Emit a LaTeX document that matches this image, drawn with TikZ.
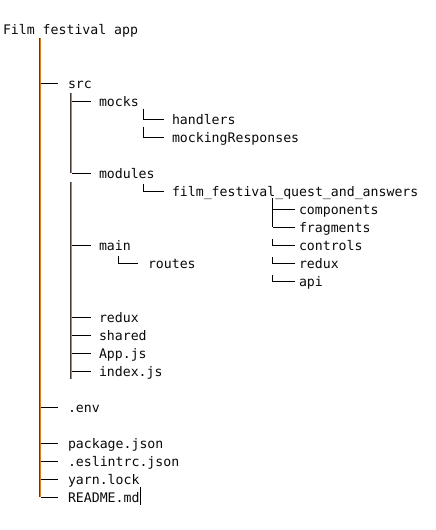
\documentclass[tikz,border=0pt]{standalone}
\usepackage{fontspec}
\setmonofont{DejaVu Sans Mono}
\definecolor{txt}{RGB}{10,10,10}
\definecolor{dk}{RGB}{75,60,55}
\definecolor{orng}{RGB}{215,125,35}
\tikzset{
  f/.style={anchor=base west, inner sep=0pt, outer sep=0pt, font=\ttfamily\fontsize{13.2}{15}\selectfont, text=txt},
  tick/.style={draw=black, line width=1pt},
  vdark/.style={draw=dk, line width=1pt},
  vorng/.style={draw=orng, line width=1pt}
}
% branch tick: node, dx back from text, length
\newcommand{\brtick}[3]{\draw[tick] ([shift={(-#2,-4.7)}]#1.base west) -- ++(#3,0);}
% corner: node, dx, height, length
\newcommand{\brcorner}[4]{\draw[tick] ([shift={(-#2,-4.7-#3)}]#1.base west) -- ++(0,#3) -- ++(#4,0);}
\begin{document}
\begin{tikzpicture}[x=1pt,y=-1pt]
\fill[white] (0,0) rectangle (436,530);
\useasboundingbox (0,0) rectangle (436,530);

\node[f] (root) at (3,34) {Film festival app};
\node[f] (src) at (68,88) {src};
\node[f] (mocks) at (99,106) {mocks};
\node[f] (handlers) at (172,124) {handlers};
\node[f] (mockresp) at (172,142) {mockingResponses};
\node[f] (modules) at (99,178) {modules};
\node[f] (ffqa) at (172,196) {film\_festival\_quest\_and\_answers};
\node[f] (components) at (299,214) {components};
\node[f] (fragments) at (299,232) {fragments};
\node[f] (main) at (99,250) {main};
\node[f] (controls) at (299,250) {controls};
\node[f] (routes) at (148,268) {routes};
\node[f] (reduxb) at (299,268) {redux};
\node[f] (api) at (299,286) {api};
\node[f] (redux) at (99,322) {redux};
\node[f] (shared) at (99,340) {shared};
\node[f] (appjs) at (99,358) {App.js};
\node[f] (indexjs) at (99,376) {index.js};
\node[f] (env) at (68,412) {.env};
\node[f] (pkg) at (68,448) {package.json};
\node[f] (eslint) at (68,466) {.eslintrc.json};
\node[f] (yarn) at (68,484) {yarn.lock};
\node[f] (readme) at (68,502) {README.md};

% main vertical line
\coordinate (m1) at (39.5,38);
\coordinate (m2) at (39.5,497.3);
\draw[vdark] (m1) -- (m2);
\draw[vorng] ([xshift=1]m1) -- ([xshift=1]m2);
% level-2 vertical lines
\coordinate (s1) at (70.5,93);
\coordinate (s2) at (70.5,173.3);
\coordinate (s3) at (70.5,182);
\coordinate (s4) at (70.5,379);
\draw[vdark] (s1) -- (s2);
\draw[vorng] ([xshift=1]s1) -- ([xshift=1]s2);
\draw[vdark] (s3) -- (s4);
\draw[vorng] ([xshift=1]s3) -- ([xshift=1]s4);

% level-1 ticks
\foreach \n in {src,env,pkg,eslint,yarn,readme} {\brtick{\n}{27}{17}}
% level-2 ticks
\foreach \n in {mocks,modules,main,redux,shared,appjs,indexjs} {\brtick{\n}{27}{19}}
% level-3 corners
\brcorner{handlers}{28.5}{10.7}{20}
\brcorner{mockresp}{28.5}{10.7}{20}
\brcorner{ffqa}{28.5}{7.7}{20}
\brcorner{routes}{29.5}{7}{19.5}
% level-4
\draw[tick] ([shift={(-26.5,-16.3)}]components.base west) -- ([shift={(-26.5,-4.7)}]fragments.base west);
\brtick{components}{26.5}{22.5}
\brtick{fragments}{26.5}{22.5}
\brcorner{controls}{26.5}{6.5}{22.5}
\brcorner{reduxb}{26.5}{6.5}{22.5}
\brcorner{api}{26.5}{6.5}{22.5}

% text caret
\coordinate (c1) at ([shift={(0.5,-15)}]readme.base east);
\draw[black, line width=1pt] (c1) -- ++(0,18);
\end{tikzpicture}
\end{document}
